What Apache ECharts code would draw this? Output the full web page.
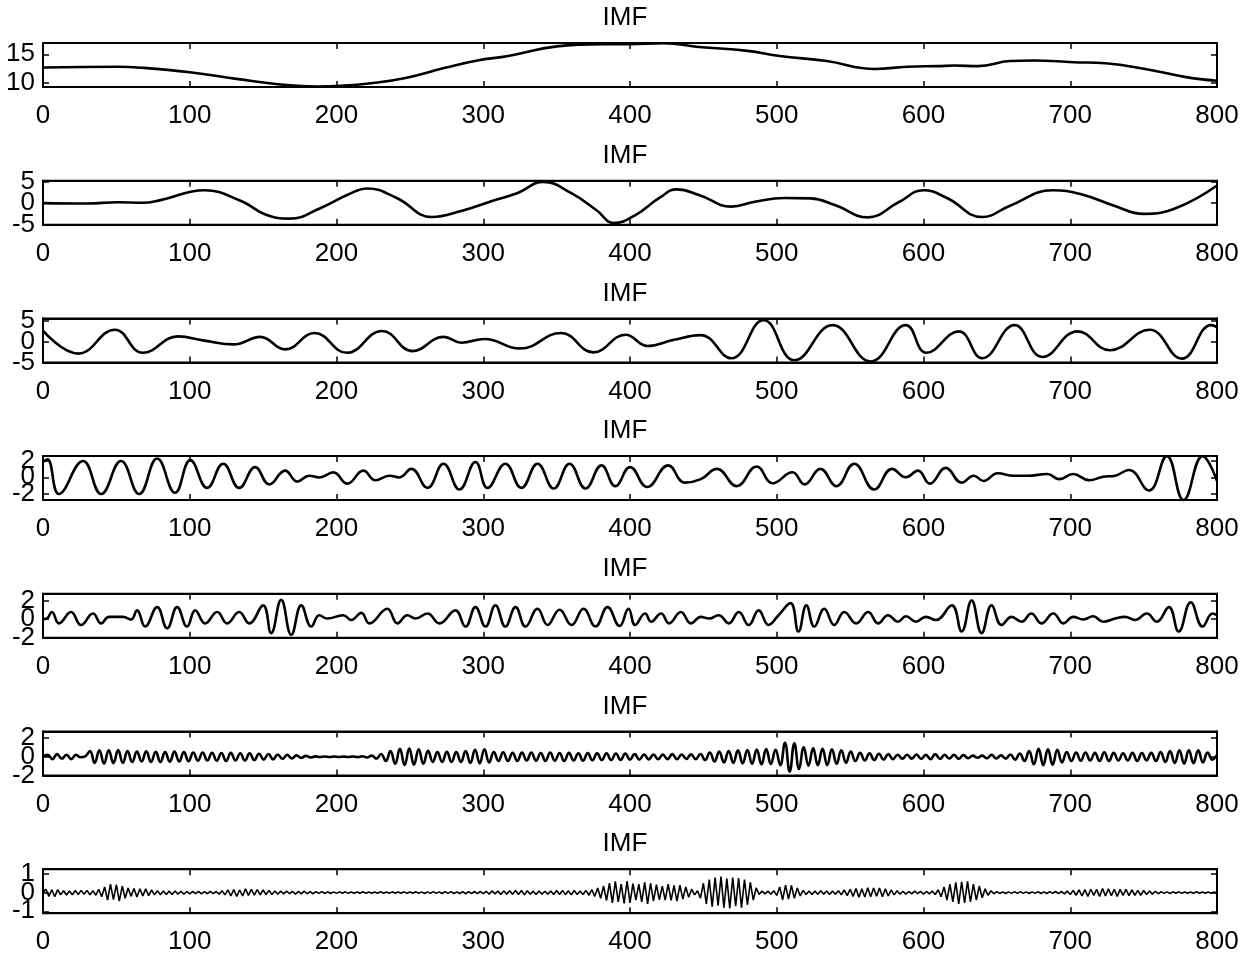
<!DOCTYPE html>
<html><head><meta charset="utf-8">
<script src="https://cdn.jsdelivr.net/npm/echarts@6/dist/echarts.min.js"></script>
<style>html,body{margin:0;padding:0;background:#fff}#c{width:1245px;height:959px}</style>
</head><body><div id="c"></div>
<script>
// ---- data ----
const titles = ['IMF','IMF','IMF','IMF','IMF','IMF','IMF'];
const xTickLabels = [0,100,200,300,400,500,600,700,800];
const yTickLabels = [[10,15],[-5,0,5],[-5,0,5],[-2,0,2],[-2,0,2],[-2,0,2],[-1,0,1]];
const yLimits = [[9.2,17],[-5,5.2],[-5,5.5],[-2.8,2.6],[-2.0,2.7],[-2.0,2.7],[-1.1,1.25]];

const imf1 = [[0,12.65],[51,12.8],[68,12.6],[100,11.8],[133,10.6],[160,9.7],[187,9.3],[203,9.4],[225,9.9],[247,10.8],[274,12.6],[296,13.9],[317,14.7],[350,16.4],[382,16.8],[399,16.8],[423,16.95],[447,16.3],[480,15.6],[502,14.7],[534,13.8],[567,12.4],[589,12.8],[610,12.9],[621,13.0],[637,12.9],[659,13.8],[675,13.9],[702,13.6],[724,13.4],[751,12.4],[778,11.0],[800,10.3]];

const imf2 = [[0,0],[30,-0.1],[51,0.2],[68,0.1],[80,0.7],[110,3.0],[135,0.5],[152,-2.7],[168,-3.6],[190,-1.0],[208,2.0],[221,3.4],[241,1.2],[265,-3.2],[285,-1.8],[306,0.5],[323,2.3],[341,4.9],[360,2.3],[377,-1.6],[389,-4.6],[404,-2.7],[420,1.2],[432,3.2],[447,1.9],[469,-0.8],[485,0.3],[505,1.2],[523,1.1],[540,-0.5],[562,-3.3],[583,0.2],[600,3.0],[616,1.2],[640,-3.2],[659,-0.6],[688,3.0],[708,2.0],[730,-0.6],[750,-2.5],[773,-1.0],[800,4.1]];

const imf3 = [[0,2.6],[24,-2.9],[49,2.8],[68,-2.7],[92,1.2],[110,0.2],[130,-0.7],[148,1.1],[165,-1.9],[185,2.0],[207,-2.7],[231,2.5],[252,-2.3],[273,1.1],[285,-0.3],[301,0.6],[325,-1.7],[353,2.0],[375,-2.6],[397,1.6],[412,-1.1],[430,0.4],[448,1.5],[469,-4.0],[491,5.1],[512,-4.5],[538,3.9],[564,-4.8],[588,3.9],[602,-2.7],[624,2.4],[640,-4.0],[662,3.9],[681,-3.7],[705,2.4],[727,-2.1],[754,2.8],[776,-4.1],[796,3.9],[800,3.4]];

const imf4 = [[0,1.9],[3,2.2],[10.9,-2.05],[27.3,2.0],[39.6,-2.05],[53.2,2.0],[65.5,-2.05],[77.8,2.3],[90,-1.9],[100.4,2.1],[111.9,-1.3],[122.8,1.67],[133.7,-1.3],[144.6,1.25],[154.2,-0.87],[165,0.82],[173.3,-0.53],[181.4,0.19],[188.3,-0.02],[197.8,0.6],[207.4,-0.78],[218.3,0.82],[226.5,-0.36],[236,0.19],[242.8,-0.02],[251,1.03],[262,-1.3],[272.9,1.67],[283.8,-1.5],[294.7,1.88],[302.9,-1.3],[315.1,1.67],[326,-1.3],[337,1.67],[348,-1.38],[358.8,1.67],[369.7,-1.38],[380.6,1.46],[390,-1.08],[400,1.25],[411.7,-1.2],[426,1.46],[437.4,-0.66],[448.3,-0.23],[459.2,1.03],[472.7,-1.08],[486.3,1.33],[497.2,-0.74],[510.7,0.61],[518.9,-0.87],[529.7,1.03],[540.6,-1.08],[552.8,1.67],[566.4,-1.5],[578.6,1.03],[588,0],[596.2,0.82],[604.3,-0.78],[615.2,1.16],[626,-0.66],[634.2,0.19],[641,-0.45],[650.5,0.49],[661.3,0.19],[670.8,0.19],[684.4,0.4],[692.5,-0.23],[702,0.4],[712.9,-0.36],[722.4,0.06],[730.5,0.19],[740,0.9],[753.6,-1.63],[765.8,2.6],[777.2,-2.8],[790.2,2.6],[800,-0.45]];

const imf5 = [[0,0],[2.7,0.06],[6,0.76],[10.9,-0.46],[19.1,0.76],[25.9,-0.63],[34.1,0.59],[39.6,-0.46],[45,0.24],[54.6,0.24],[60,-0.04],[64.1,0.93],[69.6,-0.8],[77.8,1.28],[84.6,-0.98],[91.4,1.28],[98.2,-0.8],[103.7,0.93],[110.5,-0.46],[118.7,0.76],[125.5,-0.46],[133.7,0.76],[140.5,-0.46],[150,1.46],[155.5,-1.5],[162.3,2.05],[169.2,-1.68],[176,1.46],[182.8,-0.8],[188.3,0.41],[193.7,0.06],[204.6,0.41],[210,-0.1],[216.9,0.66],[222.4,-0.46],[234.6,1.1],[241.5,-0.46],[248.3,0.41],[253.7,0.06],[262,0.59],[270.1,-0.46],[281,0.93],[287.9,-0.8],[294.7,1.28],[301.5,-0.8],[308.3,1.46],[315.1,-0.8],[322,1.28],[328.8,-0.8],[337,1.1],[343.8,-0.63],[352,1.0],[360.2,-0.63],[368.3,1.1],[376.5,-0.8],[384.7,1.28],[392.9,-0.73],[399,1.1],[403.5,-0.63],[410.3,0.59],[414.4,-0.28],[421.2,0.59],[426.6,-0.46],[434.7,0.76],[441.5,-0.46],[448.3,0.24],[453.7,0.06],[460.5,0.41],[467.3,-0.46],[474.1,0.76],[480.9,-0.63],[487.7,0.93],[494.4,-0.63],[501.2,0.41],[509.4,1.7],[514.8,-1.33],[520.2,1.46],[525.6,-0.8],[532.4,1.1],[539.2,-0.63],[546,0.76],[554.1,-0.46],[562.3,0.76],[569.1,-0.46],[575.8,0.41],[582.6,-0.28],[588,0.3],[594.8,-0.28],[601.6,0.24],[608.4,-0.1],[619.3,1.46],[626,-1.33],[632.8,1.98],[639.6,-1.5],[646.4,1.46],[653.2,-0.63],[660,0.24],[666.8,-0.28],[673.5,0.59],[680.3,-0.46],[688.5,0.59],[695.3,-0.46],[702,0.24],[708.8,-0.04],[715.6,0.3],[722.4,-0.28],[730.5,0.06],[737.3,0.24],[744.1,-0.1],[752.2,0.59],[759,-0.28],[767.2,1.28],[773.9,-1.33],[782.1,1.8],[790.2,-0.8],[797,0.59],[800,0.41]];

// evenly sampled over 0..800
const imf6 = [0,
0.2,-0.25,0.28,-0.2,0.22,-0.25,0.2,
-0.05,0.05,
0.6,-0.65,0.7,-0.72,0.7,-0.68,0.72,-0.65,0.6,
-0.55,0.55,-0.5,0.58,-0.55,0.52,-0.55,0.5,-0.52,0.55,-0.5,0.5,-0.48,
0.45,-0.42,0.45,-0.4,0.43,-0.42,0.4,-0.45,0.42,-0.4,0.38,-0.4,0.36,-0.35,0.33,
-0.3,0.3,-0.28,0.25,-0.22,0.2,-0.18,0.15,-0.12,0.1,-0.08,
0.04,-0.03,0.03,-0.02,0.03,-0.02,0.02,-0.03,0.03,-0.04,0.05,-0.08,0.12,
-0.2,0.3,-0.45,0.6,-0.75,
0.85,-0.9,0.88,-0.85,0.8,-0.75,0.65,
-0.55,0.5,-0.55,0.52,-0.55,0.5,-0.55,0.6,-0.65,
0.75,-0.7,0.8,-0.6,
0.5,-0.45,0.48,-0.45,0.42,-0.45,0.44,-0.4,0.45,-0.42,0.4,-0.44,0.45,-0.42,0.4,-0.45,0.42,-0.4,0.38,-0.42,0.4,-0.38,0.36,-0.35,0.38,-0.36,0.35,-0.33,0.35,
-0.3,0.28,-0.3,0.25,-0.28,0.25,-0.26,0.24,-0.25,0.28,-0.26,0.25,-0.24,0.26,-0.25,0.3,
-0.35,0.45,-0.5,0.55,-0.6,0.62,-0.65,0.68,-0.7,0.72,-0.75,0.78,-0.8,0.82,-0.78,0.75,
-0.9,1.5,-1.6,1.45,-1.3,
1.0,-0.95,0.9,-0.9,0.85,-0.9,0.8,-0.75,0.7,-0.65,0.55,
-0.45,0.42,-0.4,0.38,-0.35,0.33,-0.3,0.28,-0.25,
0.22,-0.2,0.22,-0.2,0.25,-0.22,0.2,-0.25,0.28,-0.22,0.2,-0.18,0.2,-0.22,0.18,-0.15,0.12,-0.1,0.12,-0.15,0.2,-0.18,0.15,-0.2,0.25,-0.3,0.35,-0.45,
0.6,-0.8,0.85,-0.9,0.8,-0.85,0.75,-0.6,0.5,
-0.45,0.45,-0.42,0.45,-0.4,0.42,-0.45,0.48,-0.45,0.42,-0.4,0.38,-0.4,0.42,-0.45,0.4,-0.38,0.42,-0.45,0.5,-0.55,0.6,
-0.65,0.7,-0.72,0.7,-0.68,0.7,-0.6,0.45,
-0.3,0.2];

// evenly sampled over 0..800
const imf7 = [0,0.18,-0.2,0.15,-0.22,0.16,
-0.12,0.1,-0.13,0.09,-0.12,0.11,-0.1,0.12,-0.09,0.11,-0.12,0.1,-0.14,0.18,-0.22,
0.3,-0.4,0.45,-0.38,0.42,-0.45,0.35,-0.3,
0.25,-0.2,0.22,-0.24,0.2,-0.18,0.2,-0.16,0.14,-0.12,
0.1,-0.11,0.09,-0.1,0.08,-0.1,0.09,-0.08,0.07,-0.08,0.06,-0.07,
0.06,-0.05,0.06,-0.07,0.05,-0.06,0.07,-0.05,0.06,-0.08,0.1,-0.12,
0.15,-0.18,0.16,-0.2,0.14,-0.18,0.2,-0.15,0.17,-0.14,0.16,-0.12,0.14,-0.1,0.12,-0.1,0.09,-0.08,
0.08,-0.07,0.08,-0.06,0.07,-0.08,0.06,-0.07,0.08,-0.06,0.05,-0.06,0.05,-0.04,0.05,-0.05,0.04,-0.05,0.04,-0.04,
0.04,-0.03,0.04,-0.04,0.03,-0.04,0.03,-0.03,0.04,-0.03,
0.03,-0.04,0.03,-0.03,0.04,-0.03,0.03,-0.04,0.04,-0.03,
0.03,-0.03,0.04,-0.04,0.03,-0.03,0.05,-0.04,0.04,-0.05,
0.04,-0.04,0.05,-0.04,0.04,-0.05,0.05,-0.04,0.05,-0.05,
0.04,-0.05,0.05,-0.06,0.05,-0.05,0.06,-0.05,0.06,-0.06,
0.07,-0.08,0.09,-0.07,0.08,-0.1,0.09,-0.08,0.1,-0.09,
0.12,-0.1,0.11,-0.12,0.1,-0.09,0.08,-0.1,0.09,-0.08,
0.07,-0.08,0.09,-0.1,0.11,-0.1,0.12,-0.11,0.1,-0.12,
0.11,-0.1,0.09,-0.1,0.12,-0.14,0.16,-0.2,0.25,-0.3,
0.35,-0.42,0.5,-0.55,0.6,-0.5,0.45,-0.58,0.62,-0.55,
0.48,-0.4,0.45,-0.5,0.55,-0.6,0.5,-0.45,0.42,-0.38,
0.35,-0.4,0.45,-0.42,0.38,-0.45,0.4,-0.35,0.3,-0.25,0.18,-0.12,0.1,
-0.3,0.5,-0.6,0.7,-0.75,0.8,-0.7,0.85,-0.8,0.75,
-0.85,0.8,-0.72,0.78,-0.8,0.7,-0.65,0.55,-0.4,0.25,
-0.1,0.08,-0.07,0.08,-0.09,0.1,-0.15,
0.3,-0.38,0.4,-0.35,0.38,-0.3,0.25,-0.18,
0.12,-0.1,0.09,-0.1,0.08,-0.09,0.1,-0.08,0.09,-0.1,0.08,-0.09,0.1,-0.12,0.14,-0.16,0.18,
-0.2,0.22,-0.25,0.2,-0.24,0.26,-0.22,0.25,-0.2,0.24,-0.22,0.2,-0.18,0.15,-0.12,0.1,
-0.08,0.07,-0.08,0.06,-0.07,0.08,-0.06,0.07,-0.08,0.06,-0.07,0.08,-0.1,0.15,-0.22,0.3,-0.4,
0.45,-0.5,0.55,-0.6,0.58,-0.55,0.6,-0.5,0.45,-0.4,0.35,-0.28,0.2,-0.14,0.1,
-0.06,0.05,-0.05,0.04,-0.05,0.04,-0.04,0.05,-0.04,0.05,-0.04,0.04,-0.05,0.04,-0.04,0.05,-0.05,0.04,-0.05,0.05,-0.04,0.06,-0.05,0.06,-0.07,0.08,-0.1,
0.12,-0.14,0.15,-0.18,0.16,-0.2,0.18,-0.15,0.17,-0.2,0.22,-0.18,0.2,-0.16,0.18,-0.2,0.17,-0.15,0.18,-0.16,0.14,-0.15,0.12,-0.14,0.11,-0.1,0.09,-0.08,0.07,-0.06,
0.05,-0.04,0.04,-0.05,0.04,-0.03,0.04,-0.04,0.03,-0.04,0.03,-0.03,0.04,-0.03,0.03,-0.04,0.03,-0.03,0.03,-0.02];

// ---- chart construction ----
const evenly = arr => arr.map((v, i) => [i * 800 / (arr.length - 1), v]);
const seriesData = [imf1, imf2, imf3, imf4, imf5, evenly(imf6), evenly(imf7)];

const FONT = '"Liberation Sans", Arial, Helvetica, sans-serif';
const TOP0 = 43, STEP = 137.7, H = 44, LEFT = 43, RIGHT = 28;
const grid = [], xAxis = [], yAxis = [], series = [], title = [];
const tickStyle = {color: '#000', width: 1.5};
const labelBase = {show: true, color: '#000', fontSize: 26, fontFamily: FONT, margin: 8,
  hideOverlap: false, showMinLabel: true, showMaxLabel: true};

for (let k = 0; k < 7; k++) {
  const top = TOP0 + k * STEP;
  grid.push({left: LEFT, right: RIGHT, top: top, height: H, show: true, borderColor: '#000', borderWidth: 2, backgroundColor: '#fff'});
  title.push({text: titles[k], left: 625, top: top - 25, textAlign: 'center', textVerticalAlign: 'middle', padding: 0,
    textStyle: {fontSize: 26, fontWeight: 'normal', color: '#000', fontFamily: FONT}});
  const xBase = {type: 'value', gridIndex: k, min: xTickLabels[0], max: xTickLabels[xTickLabels.length - 1], interval: 100,
    axisLine: {show: true, onZero: false, lineStyle: {color: '#000', width: 2}},
    axisTick: {show: true, inside: true, length: 6, lineStyle: tickStyle},
    splitLine: {show: false}};
  xAxis.push(Object.assign({}, xBase, {position: 'bottom',
    axisLabel: Object.assign({}, labelBase, {margin: 16})}));
  xAxis.push(Object.assign({}, xBase, {position: 'top', axisLabel: {show: false}}));

  const ticks = yTickLabels[k];
  const evenLabels = ticks.filter((v, i) => i % 2 === 0);
  const oddLabels = ticks.filter((v, i) => i % 2 === 1);
  const yBase = {type: 'value', gridIndex: k, min: yLimits[k][0], max: yLimits[k][1],
    axisLine: {show: true, onZero: false, lineStyle: {color: '#000', width: 2}},
    axisTick: {show: true, inside: true, length: 6, lineStyle: tickStyle, customValues: ticks},
    splitLine: {show: false}};
  // main left axis: labels at alternate ticks
  yAxis.push(Object.assign({}, yBase, {position: 'left',
    axisLabel: Object.assign({}, labelBase, {customValues: evenLabels})}));
  // right axis: ticks only
  yAxis.push(Object.assign({}, yBase, {position: 'right', axisLabel: {show: false}}));
  // second left axis: remaining labels (kept on a separate axis so crowded labels all show)
  yAxis.push(Object.assign({}, yBase, {position: 'left', axisLine: {show: false}, axisTick: {show: false},
    axisLabel: Object.assign({}, labelBase, {customValues: oddLabels.length ? oddLabels : [], show: oddLabels.length > 0})}));

  series.push({type: 'line', xAxisIndex: 2 * k, yAxisIndex: 3 * k, data: seriesData[k],
    showSymbol: false, smooth: k === 6 ? false : 0.45,
    lineStyle: {color: '#000', width: k === 6 ? 1.6 : 2.6}, animation: false, silent: true});
}

const chart = echarts.init(document.getElementById('c'), null, {renderer: 'canvas'});
chart.setOption({backgroundColor: '#fff', animation: false, title, grid, xAxis, yAxis, series});
</script>
</body></html>
